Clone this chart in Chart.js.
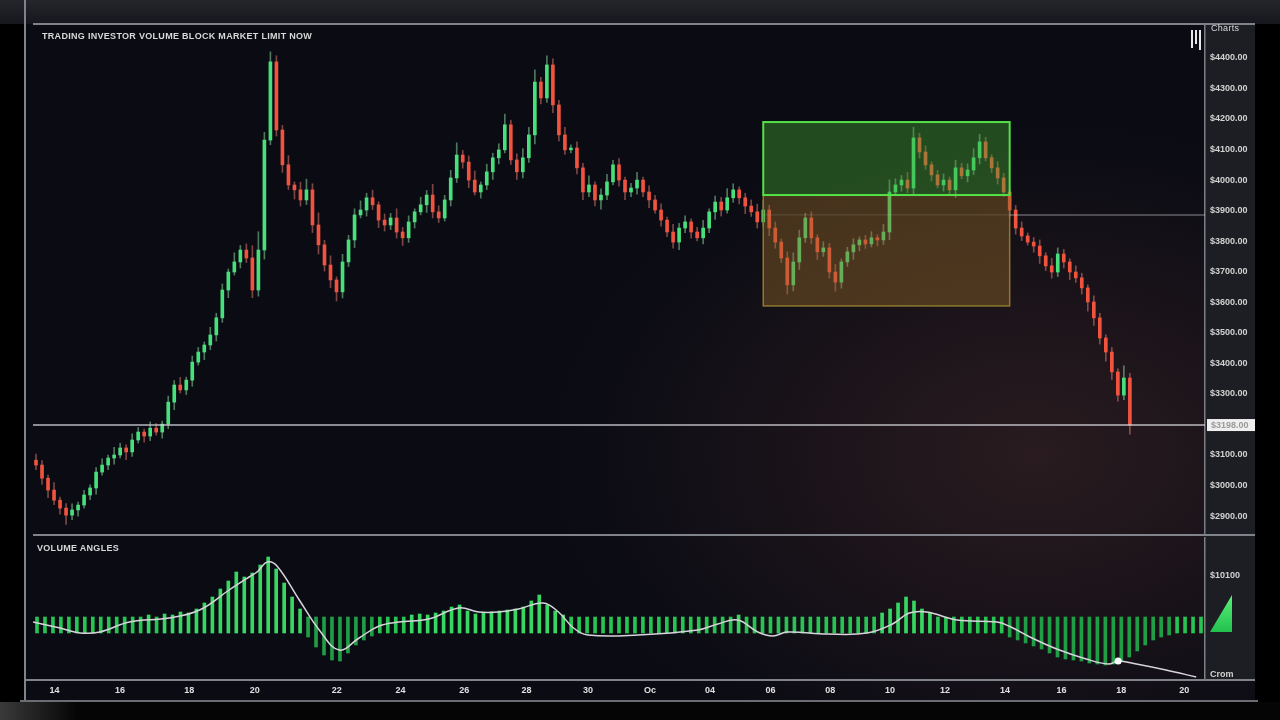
<!DOCTYPE html>
<html>
<head>
<title>Trading Chart</title>
<script src="https://cdn.jsdelivr.net/npm/chart.js"></script>
<style>
    body { margin: 0; width: 1280px; height: 720px; background: #000; overflow: hidden; position: relative;
           font-family: 'Liberation Sans', Arial, sans-serif; }
    #topbar { position: absolute; left: 0; top: 0; width: 1280px; height: 24px; background: linear-gradient(#24262c, #15171c); }
    #screen { position: absolute; left: 24px; top: 24px; width: 1231px; height: 676px;
              background: radial-gradient(ellipse 480px 330px at 1010px 430px, rgba(62,38,40,0.6), rgba(0,0,0,0)), #0a0b13; }
    #axisStrip { position: absolute; left: 1205px; top: 24px; width: 50px; height: 656px; background: #1d1e23; }
    #bottomBar { position: absolute; left: 0; top: 702px; width: 1280px; height: 18px; background: linear-gradient(90deg, #3a3a3a, #050505 6%, #050505); }
    .line { position: absolute; background: #80838a; }
    .label { position: absolute; color: #d8d8d8; font-size: 9px; font-weight: bold; letter-spacing: 0.3px; white-space: nowrap; }
    #mainBox { position: absolute; left: 33px; top: 24px; }
    #volBox { position: absolute; left: 33px; top: 537px; }
    #tri { position: absolute; left: 1210px; top: 595px; width: 22px; height: 37px;
           background: linear-gradient(#5bf07a, #22c04e); clip-path: polygon(0 100%, 100% 0, 100% 100%); }
    .ico { position: absolute; top: 30px; width: 2px; height: 18px; background: #e8e8e8; }
</style>
</head>
<body>
    <div id="topbar"></div>
    <div id="screen"></div>
    <div id="axisStrip"></div>
    <div id="bottomBar"></div>

    <div class="line" style="left:24px; top:0; width:2px; height:702px;"></div>
    <div class="line" style="left:33px; top:23px; width:1222px; height:2px;"></div>
    <div class="line" style="left:33px; top:534px; width:1222px; height:2px;"></div>
    <div class="line" style="left:24px; top:679px; width:1231px; height:2px;"></div>
    <div class="line" style="left:20px; top:700px; width:1238px; height:2px; background:#6b6d72;"></div>

    <div id="mainBox"><canvas id="priceChart" width="1222" height="511"></canvas></div>
    <div id="volBox"><canvas id="volChart" width="1222" height="163"></canvas></div>

    <div class="label" style="left:42px; top:31px;">TRADING INVESTOR VOLUME BLOCK MARKET LIMIT NOW</div>
    <div class="label" style="left:37px; top:543px;">VOLUME ANGLES</div>
    <div class="label" style="left:1211px; top:23px; font-weight:normal;">Charts</div>
    <div class="ico" style="left:1191px;"></div>
    <div class="ico" style="left:1195px; height:14px;"></div>
    <div class="ico" style="left:1199px; height:20px;"></div>
    <div id="tri"></div>

    <script>
        // ---- datos del grafico de precios ----
        const slotCount = 195;
        const firstOpen = 3083;
        const closes = [
            3067, 3024, 2985, 2952, 2926, 2903, 2920, 2936, 2969, 2992,
            3044, 3067, 3090, 3100, 3123, 3110, 3149, 3175, 3162, 3188,
            3175, 3201, 3273, 3329, 3313, 3345, 3404, 3437, 3460, 3493,
            3549, 3640, 3699, 3732, 3771, 3745, 3640, 3771, 4131, 4387,
            4164, 4050, 3984, 3968, 3935, 3968, 3853, 3788, 3722, 3673,
            3634, 3732, 3804, 3886, 3902, 3942, 3919, 3869, 3853, 3876,
            3830, 3811, 3863, 3896, 3919, 3951, 3896, 3876, 3935, 4007,
            4082, 4059, 4000, 3961, 3984, 4027, 4073, 4099, 4181, 4066,
            4027, 4073, 4148, 4321, 4269, 4377, 4246, 4148, 4099, 4105,
            4040, 3961, 3984, 3935, 3951, 3994, 4050, 4000, 3961, 3974,
            4000, 3961, 3935, 3902, 3869, 3830, 3797, 3843, 3863, 3830,
            3811, 3843, 3896, 3928, 3902, 3942, 3968, 3942, 3915, 3896,
            3863, 3902, 3843, 3797, 3745, 3657, 3732, 3811, 3876, 3811,
            3765, 3778, 3699, 3666, 3732, 3765, 3788, 3804, 3791, 3811,
            3804, 3830, 3961, 3984, 4000, 3974, 4138, 4092, 4050, 4017,
            3984, 4000, 3968, 4040, 4014, 4033, 4073, 4125, 4073, 4040,
            4007, 3961, 3902, 3843, 3817, 3797, 3784, 3752, 3719, 3699,
            3758, 3732, 3699, 3680, 3647, 3601, 3549, 3483, 3437, 3372,
            3296, 3352, 3198
        ];
        // mecha superior / inferior (por encima / por debajo del cuerpo)
        const wickHi = [
            20, 15, 10, 25, 10, 15, 20, 10, 15, 10,
            15, 20, 10, 25, 15, 10, 20, 15, 10, 20,
            15, 10, 20, 15, 25, 10, 20, 15, 10, 25,
            15, 20, 10, 30, 15, 20, 40, 60, 25, 33,
            20, 15, 30, 10, 25, 35, 20, 40, 15, 30,
            10, 25, 15, 20, 30, 15, 25, 10, 20, 15,
            30, 15, 20, 10, 25, 15, 35, 20, 15, 25,
            40, 15, 20, 30, 10, 25, 15, 20, 35, 15,
            20, 30, 25, 40, 15, 30, 20, 15, 25, 10,
            20, 15, 30, 10, 20, 25, 15, 20, 10, 15,
            25, 10, 20, 15, 20, 10, 25, 15, 20, 10,
            15, 25, 10, 20, 15, 30, 20, 10, 15, 20,
            25, 30, 15, 20, 10, 20, 30, 25, 15, 20,
            10, 20, 15, 25, 10, 15, 20, 10, 15, 20,
            10, 25, 40, 20, 15, 25, 35, 15, 20, 10,
            15, 20, 10, 25, 15, 20, 30, 25, 15, 10,
            20, 15, 10, 15, 20, 10, 15, 20, 10, 25,
            20, 15, 10, 20, 15, 10, 20, 15, 10, 15,
            10, 40, 15
        ];
        const wickLo = [
            15, 20, 25, 15, 20, 30, 15, 20, 10, 15,
            20, 10, 15, 20, 10, 25, 15, 10, 20, 15,
            10, 20, 15, 25, 10, 15, 20, 10, 25, 15,
            20, 15, 25, 10, 20, 15, 25, 20, 30, 15,
            20, 25, 15, 30, 20, 15, 25, 30, 20, 25,
            30, 20, 15, 25, 10, 20, 15, 25, 20, 15,
            20, 25, 15, 20, 10, 25, 20, 15, 10, 20,
            15, 20, 25, 10, 20, 15, 25, 20, 10, 15,
            25, 20, 15, 30, 20, 15, 25, 20, 15, 10,
            20, 25, 15, 20, 30, 15, 10, 20, 25, 15,
            20, 15, 25, 10, 20, 15, 20, 25, 15, 20,
            10, 20, 15, 25, 20, 10, 15, 20, 25, 15,
            20, 15, 25, 20, 15, 30, 20, 25, 15, 20,
            25, 15, 20, 30, 20, 15, 25, 20, 15, 10,
            20, 15, 25, 10, 20, 15, 25, 20, 15, 20,
            10, 20, 15, 25, 10, 20, 15, 20, 10, 15,
            20, 15, 25, 20, 15, 10, 20, 25, 15, 20,
            15, 20, 25, 15, 20, 30, 25, 20, 30, 25,
            20, 15, 30
        ];
        const priceTicks = [4400, 4300, 4200, 4100, 4000, 3900, 3800, 3700, 3600, 3500, 3400, 3300, 3100, 3000, 2900];
        const priceMin = 2838, priceMax = 4511;

        // zona marcada (indices de vela y precios)
        const boxStart = 121, boxEnd = 162;
        const boxTop = 4190, boxMid = 3951, boxBottom = 3588;
        const resistance = 3886;
        const currentPrice = 3198;

        // ---- datos del panel de volumen ----
        const volSlots = 147;
        const volHist = [
            0, 0, 0, 0, 0, 0, 0, 0, 0, 0,
            0, 0, 0, 0, 2, 0, 3, 2, 5, 4,
            8, 14, 20, 28, 36, 45, 40, 44, 52, 60,
            48, 34, 20, 8, -4, -14, -22, -27, -28, -20,
            -12, -7, -3, 0, 0, 0, 0, 2, 3, 2,
            4, 6, 10, 12, 6, 3, 4, 5, 6, 7,
            8, 10, 16, 22, 12, 6, 2, 0, 0, 0,
            0, 0, 0, 0, 0, 0, 0, 0, 0, 0,
            0, 0, 0, 0, 0, 0, 0, 0, 2, 0,
            0, 0, 0, 0, 0, 0, 0, 0, 0, 0,
            0, 0, 0, 0, 0, 0, 4, 8, 14, 20,
            16, 8, 4, 0, 0, 0, 0, 0, 0, 0,
            0, 0, -4, -7, -10, -13, -16, -20, -24, -26,
            -27, -28, -30, -31, -32, -31, -28, -24, -18, -12,
            -7, -4, -2, 0, 0, 0, 0
        ];
        const volBand = 8;
        const trendX = [-0.5, 2.9, 5.4, 7.9, 11.6, 16.6, 20.4, 24.1, 26.6, 27.6, 28.9, 30.1, 32.9, 35.4, 37.9, 40.4, 42.9, 45.4, 49.1, 52.9,
                        55.4, 57.9, 60.4, 63.5, 65.4, 67.3, 69.1, 75.4, 82.9, 85.4, 87.9, 90.4, 92.3, 94.1, 99.1, 104.1, 107.3, 109.4, 111.6, 115.4,
                        120.4, 121.9, 124.8, 127.9, 131.6, 134.4, 135.6, 137.9, 141.6, 145.4];
        const trendY = [3, -3, -8, -7, 3, 7, 15, 35, 48, 53, 63, 59, 25, -5, -25, -13, -1, 3, 6, 17,
                        13, 13, 16, 22, 13, -3, -10, -10, -5, 1, 5, -7, -11, -7, -9, -8, 1, 12, 13, 5,
                        3, -1, -13, -24, -34, -39, -36, -39, -45, -52];
        const trendBlob = 46;
        const volTickVals = [49, -50];
        const volTickLabels = ['$10100', 'Crom'];
        const dateTickPos = [2.2, 10.4, 19.1, 27.3, 37.6, 45.6, 53.6, 61.4, 69.1, 76.9, 84.4, 92, 99.5, 107, 113.9, 121.4, 128.5, 136, 143.9];
        const dateLabels = ['14', '16', '18', '20', '22', '24', '26', '28', '30', 'Oc', '04', '06', '08', '10', '12', '14', '16', '18', '20'];

        const upColor = '#47e07b';
        const downColor = '#f2533f';
        const tickFont = { family: "'Liberation Sans', Arial, sans-serif", size: 9, weight: 'bold' };

        const opens = closes.map((c, i) => i === 0 ? firstOpen : closes[i - 1]);
        const bodies = closes.map((c, i) => [opens[i], c]);
        const wicks = closes.map((c, i) => [Math.min(opens[i], c) - wickLo[i], Math.max(opens[i], c) + wickHi[i]]);
        const candleColors = closes.map((c, i) => c >= opens[i] ? upColor : downColor);
        const wickColors = closes.map((c, i) => c >= opens[i] ? 'rgba(150,230,170,0.5)' : 'rgba(240,130,120,0.5)');
        const slotLabels = Array.from({ length: slotCount }, (_, i) => String(i));

        // quitar el relleno automatico de las etiquetas para que el area coincida con el marco
        function noPad(s) {
            s.paddingTop = 0; s.paddingBottom = 0; s.paddingLeft = 0; s.paddingRight = 0;
        }

        const overlayPlugin = {
            id: 'overlay',
            afterDatasetsDraw(chart) {
                const { ctx, chartArea, scales: { x, y } } = chart;
                const l = x.getPixelForValue(boxStart), r = x.getPixelForValue(boxEnd);
                const t = y.getPixelForValue(boxTop), m = y.getPixelForValue(boxMid), b = y.getPixelForValue(boxBottom);
                ctx.save();
                // zona inferior (naranja)
                ctx.fillStyle = 'rgba(150,105,40,0.42)';
                ctx.fillRect(l, m, r - l, b - m);
                ctx.strokeStyle = '#8e7a2f';
                ctx.lineWidth = 1.5;
                ctx.strokeRect(l, m, r - l, b - m);
                // zona superior (verde)
                ctx.fillStyle = 'rgba(70,165,50,0.42)';
                ctx.fillRect(l, t, r - l, m - t);
                ctx.strokeStyle = '#55e048';
                ctx.lineWidth = 2;
                ctx.strokeRect(l, t, r - l, m - t);
                // resistencia
                const ry = y.getPixelForValue(resistance);
                ctx.strokeStyle = 'rgba(200,200,200,0.2)';
                ctx.lineWidth = 1;
                ctx.beginPath(); ctx.moveTo(l, ry); ctx.lineTo(r, ry); ctx.stroke();
                ctx.strokeStyle = 'rgba(200,200,205,0.45)';
                ctx.lineWidth = 1.5;
                ctx.beginPath(); ctx.moveTo(r, ry); ctx.lineTo(chartArea.right, ry); ctx.stroke();
                // precio actual
                const py = y.getPixelForValue(currentPrice);
                ctx.strokeStyle = 'rgba(215,215,220,0.85)';
                ctx.beginPath(); ctx.moveTo(chartArea.left, py); ctx.lineTo(chartArea.right, py); ctx.stroke();
                ctx.restore();
            },
            afterDraw(chart) {
                const { ctx, chartArea, scales: { y } } = chart;
                const py = y.getPixelForValue(currentPrice);
                ctx.save();
                ctx.fillStyle = '#efefef';
                ctx.fillRect(chartArea.right + 2, py - 6, chart.width - chartArea.right - 2, 12);
                ctx.fillStyle = '#9a9a9a';
                ctx.font = "bold 9px 'Liberation Sans', Arial, sans-serif";
                ctx.textBaseline = 'middle';
                ctx.fillText('$' + currentPrice + '.00', chartArea.right + 6, py + 0.5);
                ctx.restore();
            }
        };

        new Chart(document.getElementById('priceChart'), {
            type: 'bar',
            data: {
                labels: slotLabels,
                datasets: [
                    { data: bodies, backgroundColor: candleColors, barThickness: 3, grouped: false, order: 0 },
                    { data: wicks, backgroundColor: wickColors, barThickness: 1, grouped: false, order: 1 }
                ]
            },
            options: {
                responsive: false,
                animation: false,
                layout: { padding: 0 },
                plugins: { legend: { display: false }, tooltip: { enabled: false } },
                scales: {
                    x: { display: false },
                    y: {
                        position: 'right',
                        min: priceMin,
                        max: priceMax,
                        grid: { display: false, drawTicks: false },
                        border: { display: true, color: '#7b7e85', width: 1.5 },
                        afterFit: s => { s.width = 50; noPad(s); },
                        afterBuildTicks: s => { s.ticks = priceTicks.map(v => ({ value: v })); },
                        ticks: { color: '#d2d2d2', font: tickFont, padding: 5, callback: v => '$' + v + '.00' }
                    }
                }
            },
            plugins: [overlayPlugin]
        });

        // ---- panel inferior ----
        const volBars = volHist.map(h => h >= 0 ? [-volBand, volBand + h] : [-volBand + h, volBand]);
        const volColors = volHist.map(h => h > 0 ? '#37d862' : (h < 0 ? '#1f9e45' : '#27c452'));

        new Chart(document.getElementById('volChart'), {
            type: 'bar',
            data: {
                labels: Array.from({ length: volSlots }, (_, i) => String(i)),
                datasets: [
                    {
                        type: 'line',
                        xAxisID: 'xl',
                        data: trendX.map((x, i) => ({ x: x, y: trendY[i] })),
                        borderColor: '#d8d4dc',
                        borderWidth: 1.5,
                        tension: 0.4,
                        pointRadius: c => c.dataIndex === trendBlob ? 3.5 : 0,
                        pointBackgroundColor: '#ffffff',
                        pointBorderWidth: 0,
                        order: 0
                    },
                    { data: volBars, backgroundColor: volColors, barThickness: 3, grouped: false, order: 1 }
                ]
            },
            options: {
                responsive: false,
                animation: false,
                layout: { padding: 0 },
                plugins: { legend: { display: false }, tooltip: { enabled: false } },
                scales: {
                    x: { display: false },
                    xl: {
                        type: 'linear',
                        position: 'bottom',
                        offset: false,
                        min: -0.5,
                        max: volSlots - 0.5,
                        grid: { display: false, drawTicks: false, offset: false },
                        border: { display: false },
                        afterFit: s => { s.height = 20; noPad(s); },
                        afterBuildTicks: s => { s.ticks = dateTickPos.map(v => ({ value: v })); },
                        ticks: { color: '#e0e0e0', font: tickFont, padding: 5, maxRotation: 0, autoSkip: false,
                                 callback: (v, i) => dateLabels[i] }
                    },
                    y: {
                        position: 'right',
                        min: -55,
                        max: 88,
                        grid: { display: false, drawTicks: false },
                        border: { display: true, color: '#7b7e85', width: 1.5 },
                        afterFit: s => { s.width = 50; noPad(s); },
                        afterBuildTicks: s => { s.ticks = volTickVals.map(v => ({ value: v })); },
                        ticks: { color: '#d2d2d2', font: tickFont, padding: 5, callback: (v, i) => volTickLabels[i] }
                    }
                }
            }
        });
    </script>
</body>
</html>
